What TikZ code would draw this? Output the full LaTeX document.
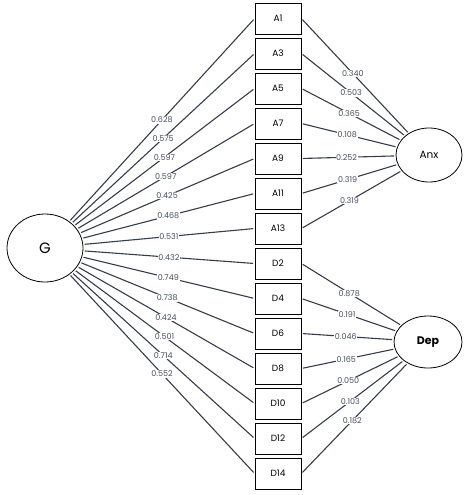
\documentclass[tikz,border=0pt]{standalone}
\usepackage{fontspec}
\setmainfont{Poppins}
\usepackage{tikz}
\usetikzlibrary{shapes.geometric}

\definecolor{linegray}{HTML}{363C49}
\definecolor{labelgray}{HTML}{474F5D}

\begin{document}
\begin{tikzpicture}[x=1pt, y=-1pt,
    itembox/.style={draw, thick, minimum width=46pt, minimum height=31pt, inner sep=0pt, font=\fontsize{9}{11}\selectfont},
    factor/.style={draw, thick, ellipse, inner sep=0pt},
    loading/.style={draw=linegray, line width=1.1pt, shorten >=1.5pt, shorten <=1.5pt},
    coef/.style={fill=white, inner sep=0.6pt, text=labelgray, font=\fontsize{8}{9}\selectfont}]
  \useasboundingbox (0,0) rectangle (474,495);

  % Latent factors
  \node[factor, minimum width=76pt, minimum height=68pt, font=\fontsize{15}{18}\selectfont] (G) at (45,248) {G};
  \node[factor, minimum width=66pt, minimum height=54pt, font=\fontsize{10.5}{12}\selectfont] (Anx) at (429,155) {Anx};
  \node[factor, minimum width=68pt, minimum height=52pt, font=\bfseries\fontsize{11}{13}\selectfont] (Dep) at (428,342) {Dep};

  % Items
  \foreach \item [count=\i from 0] in {A1,A3,A5,A7,A9,A11,A13,D2,D4,D6,D8,D10,D12,D14}
    \node[itembox] (\item) at (278,{18.5+35*\i}) {\item};

  % General factor loadings
  \foreach \item/\val in {A1/0.628, A3/0.575, A5/0.597, A7/0.597, A9/0.425, A11/0.468, A13/0.531,
                          D2/0.432, D4/0.749, D6/0.738, D8/0.424, D10/0.501, D12/0.714, D14/0.552}
    \draw[loading] (G) -- node[coef, pos=0.5] {\val} (\item.west);

  % Anxiety loadings
  \foreach \item/\val in {A1/0.340, A3/0.503, A5/0.365, A7/0.108, A9/0.252, A11/0.319, A13/0.319}
    \draw[loading] (\item.east) -- node[coef, pos=0.48] {\val} (Anx);

  % Depression loadings
  \foreach \item/\val in {D2/0.878, D4/0.191, D6/0.046, D8/0.165, D10/0.050, D12/0.103, D14/0.182}
    \draw[loading] (\item.east) -- node[coef, pos=0.48] {\val} (Dep);
\end{tikzpicture}
\end{document}
